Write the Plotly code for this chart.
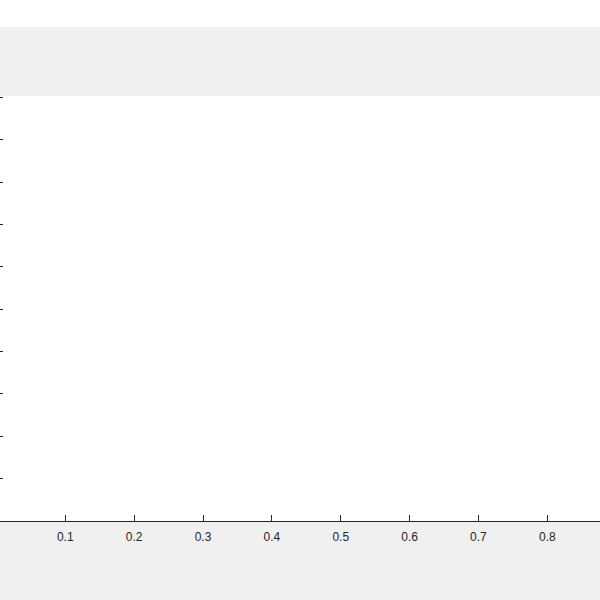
import plotly.graph_objects as go

# Empty MATLAB-style axes: only the tick values exist
x_ticks = [0.0, 0.1, 0.2, 0.3, 0.4, 0.5, 0.6, 0.7, 0.8, 0.9]
x_labels = ['0', '0.1', '0.2', '0.3', '0.4', '0.5', '0.6', '0.7', '0.8', '0.9']
y_ticks = [0.0, 0.1, 0.2, 0.3, 0.4, 0.5, 0.6, 0.7, 0.8, 0.9, 1.0]

AXIS_COLOR = '#262626'
FIG_GRAY = '#f0f0f0'

fig = go.Figure()

# one invisible trace so the axes get drawn
fig.add_trace(go.Scatter(x=[], y=[], mode='markers', showlegend=False, hoverinfo='skip'))

fig.update_layout(
    width=600,
    height=600,
    autosize=False,
    margin=dict(l=0, r=0, t=96, b=79, pad=0),
    paper_bgcolor=FIG_GRAY,
    plot_bgcolor='white',
    font=dict(family='Liberation Sans, Arial, sans-serif', size=12, color=AXIS_COLOR),
    xaxis=dict(
        range=[0.0052, 0.8765],
        tickvals=x_ticks,
        ticktext=x_labels,
        ticks='inside',
        ticklen=6,
        tickwidth=1,
        tickcolor=AXIS_COLOR,
        ticklabelstandoff=5,
        showline=True,
        linecolor=AXIS_COLOR,
        linewidth=1,
        showgrid=False,
        zeroline=False,
        fixedrange=True,
    ),
    yaxis=dict(
        range=[0, 1.003],
        tickvals=y_ticks,
        ticks='inside',
        ticklen=3,
        tickwidth=1,
        tickcolor=AXIS_COLOR,
        showticklabels=False,
        showline=False,
        showgrid=False,
        zeroline=False,
        fixedrange=True,
    ),
    # white strip above the gray figure band
    shapes=[dict(
        type='rect', xref='paper', yref='paper',
        x0=-0.01, x1=1.01, y0=1 + 69 / 425, y1=1.3,
        fillcolor='white', line=dict(width=0), layer='above',
    )],
)

fig.write_html("out.html", config={"displayModeBar": False},
               post_script="document.body.style.margin='0';")
